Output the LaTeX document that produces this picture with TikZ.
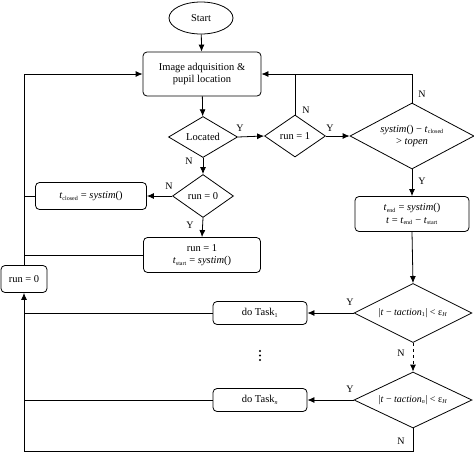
\documentclass[tikz,border=0pt]{standalone}
\usepackage{fontspec}
\setmainfont{Liberation Serif}
\usetikzlibrary{shapes.geometric,arrows.meta}
\newcommand{\sbs}[1]{\textsubscript{\fontsize{6}{6}\selectfont #1}}
\begin{document}
\begin{tikzpicture}[x=1pt,y=-1pt,
  line width=0.8pt,
  every node/.style={font=\fontsize{10.5}{12.5}\selectfont},
  box/.style={draw,rounded corners=4pt,align=center,inner sep=1pt},
  dia/.style={draw,diamond,aspect=2,inner sep=0pt,align=center},
  arr/.style={-{Latex[length=7pt,width=6pt]}},
  lab/.style={font=\fontsize{10}{11}\selectfont,inner sep=1pt}]
\useasboundingbox (0,0) rectangle (474,453);
\node[draw,ellipse,minimum width=64pt,minimum height=32pt] (start) at (201,18) {Start};
\node[box,minimum width=118pt,minimum height=44pt] (img) at (202,74) {Image adquisition \&\\pupil location};
\node[dia,minimum width=69pt,minimum height=41pt] (loc) at (203,137) {Located};
\node[dia,minimum width=61pt,minimum height=42pt] (r1) at (295,136) {run = 1};
\node[dia,minimum width=124pt,minimum height=66pt] (big) at (412,136) {\textit{systim}() − \textit{t}\sbs{closed}\\ > \textit{topen}};
\node[dia,minimum width=61pt,minimum height=43pt] (r0d) at (203,196) {run = 0};
\node[box,minimum width=111pt,minimum height=27pt] (tcl) at (91,196) {\textit{t}\sbs{closed} = \textit{systim}()};
\node[box,minimum width=117pt,minimum height=35pt] (r1b) at (202,255) {run = 1\\ \textit{t}\sbs{start} = \textit{systim}()};
\node[box,minimum width=46pt,minimum height=27pt] (r0b) at (24,279) {run = 0};
\node[box,minimum width=114pt,minimum height=35pt] (tend) at (412,214) {\textit{t}\sbs{end} = \textit{systim}()\\ \textit{t} = \textit{t}\sbs{end} − \textit{t}\sbs{start}};
\node[dia,minimum width=118pt,minimum height=59pt,aspect=3,font=\fontsize{10}{11}\selectfont] (d1) at (413,313) {|\textit{t} − \textit{taction}\sbs{1}| < ε\sbs{\textit{H}}};
\node[box,minimum width=94pt,minimum height=23pt] (task1) at (260,313) {do Task\sbs{1}};
\node[dia,minimum width=118pt,minimum height=56pt,aspect=3,font=\fontsize{10}{11}\selectfont] (dn) at (413,400) {|\textit{t} − \textit{taction}\sbs{\textit{n}}| < ε\sbs{\textit{H}}};
\node[box,minimum width=94pt,minimum height=23pt] (taskn) at (260,400) {do Task\sbs{\textit{n}}};
\coordinate (bot) at (413,451);
% vertical ellipsis
\foreach \yy in {351,355.5,360} \fill (260,\yy) circle (1.2pt);
% connectors
\draw[arr] (start) -- (img);
\draw[arr] (img) -- (loc);
\draw[arr] (loc.east) -- (r1.west);
\draw[arr] (r1.east) -- (big.west);
\draw[arr] (big.north) |- (img.east);
\draw (r1.north) -- (r1.north |- img.east);
\draw[arr] (loc.south) -- (r0d.north);
\draw[arr] (r0d.west) -- (tcl.east);
\draw[arr] (r0d.south) -- (r1b.north);
\draw[arr] (r0b.north) |- (img.west);
\draw (tcl.west) -- (tcl.west -| r0b.north);
\draw (r1b.west) -- (r1b.west -| r0b.north);
\draw[arr] (big.south) -- (tend.north);
\draw[arr] (tend.south) -- (d1.north);
\draw[arr] (d1.west) -- (task1.east);
\draw (task1.west) -- (task1.west -| r0b.south);
\draw[arr,dashed] (d1.south) -- (dn.north);
\draw[arr] (dn.west) -- (taskn.east);
\draw (taskn.west) -- (taskn.west -| r0b.south);
\draw[arr] (dn.south) -- (bot) -| (r0b.south);
% labels
\node[lab] (yl1) at (240,128) {Y};
\node[lab] (yl2) at (330,128) {Y};
\node[lab] (nl1) at (306,110) {N};
\node[lab] (nl2) at (422,94) {N};
\node[lab] (nl3) at (189,161) {N};
\node[lab] (nl4) at (169,186) {N};
\node[lab] (yl3) at (190,225) {Y};
\node[lab] (yl4) at (422,181) {Y};
\node[lab] (yl5) at (350,302) {Y};
\node[lab] (nl5) at (401,353) {N};
\node[lab] (yl6) at (350,389) {Y};
\node[lab] (nl6) at (401,441) {N};
\end{tikzpicture}
\end{document}
